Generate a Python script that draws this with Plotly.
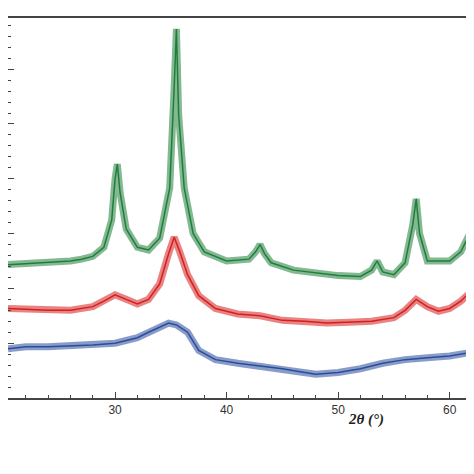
import plotly.graph_objects as go

# 2-theta positions and intensities (arbitrary units)
x_green = [20.4, 22, 24, 26, 27, 28, 29, 29.7, 30.0, 30.2, 30.45, 31, 32, 33, 34, 34.9, 35.3, 35.5, 35.7, 36.2, 37, 38, 40, 42, 42.6, 43.0, 43.4, 44, 46, 48, 50, 52, 53.0, 53.5, 54.0, 55, 56, 56.7, 57.0, 57.3, 58, 60, 61, 62, 62.7, 63.0]
y_green = [146, 147, 148, 150, 152, 155, 165, 195, 240, 256, 225, 185, 165, 162, 175, 230, 340, 404, 310, 230, 180, 160, 150, 152, 160, 168, 158, 148, 140, 137, 134, 133, 140, 150, 138, 135, 148, 190, 218, 180, 150, 150, 160, 185, 231, 215]

x_red = [20.4, 22, 24, 26, 28, 29, 30, 31, 32, 33, 34, 34.8, 35.3, 35.8, 36.5, 37.5, 39, 41, 43, 45, 47, 49, 51, 53, 55, 56, 57, 58, 59, 60, 61, 62, 63.0]
y_red = [98, 97, 96, 96, 100, 106, 113, 108, 103, 108, 125, 158, 176, 160, 135, 112, 98, 92, 90, 85, 84, 82, 83, 84, 88, 96, 108, 100, 95, 98, 106, 118, 128]

x_blue = [20.4, 22, 24, 26, 28, 30, 32, 33, 34, 34.8, 35.5, 36.5, 37.5, 39, 41, 43, 45, 47, 48, 50, 52, 54, 56, 58, 60, 62, 63.0]
y_blue = [54, 56, 56, 57, 58, 60, 66, 72, 78, 82, 80, 72, 52, 42, 38, 35, 32, 28, 26, 28, 32, 38, 42, 44, 46, 50, 55]

series = [(x_blue, y_blue, "#2a4c9c"), (x_red, y_red, "#d61e1e"), (x_green, y_green, "#1f7f3a")]

fig = go.Figure()
for xs, ys, col in series:
    # wide band imitates the noisy trace
    fig.add_trace(go.Scatter(x=xs, y=ys, mode="lines", line=dict(color=col, width=7), opacity=0.55))
    fig.add_trace(go.Scatter(x=xs, y=ys, mode="lines", line=dict(color=col, width=1.5)))

fig.update_layout(
    width=474, height=474, showlegend=False,
    paper_bgcolor="white", plot_bgcolor="white",
    margin=dict(l=0, r=0, t=10, b=84),
    font=dict(family="Liberation Sans", size=12, color="#333"),
)
fig.update_xaxes(range=[20.4, 62.9], tickvals=[30, 40, 50, 60], ticks="inside", ticklen=6,
                 minor=dict(ticks="inside", ticklen=3, dtick=2), showgrid=False,
                 showline=True, linecolor="#444", linewidth=1.5, mirror=True, zeroline=False)
fig.update_yaxes(range=[0, 416], showticklabels=False, ticks="inside", dtick=60, ticklen=6,
                 minor=dict(ticks="inside", ticklen=3, dtick=12), showgrid=False,
                 showline=True, linecolor="#444", linewidth=1.5, zeroline=False)
fig.add_annotation(text="<b><i>2θ (°)</i></b>", x=52.5, y=-0.085, xref="x", yref="paper",
                   showarrow=False, font=dict(family="Liberation Serif", size=15, color="#222"))

fig.write_html("out.html")
